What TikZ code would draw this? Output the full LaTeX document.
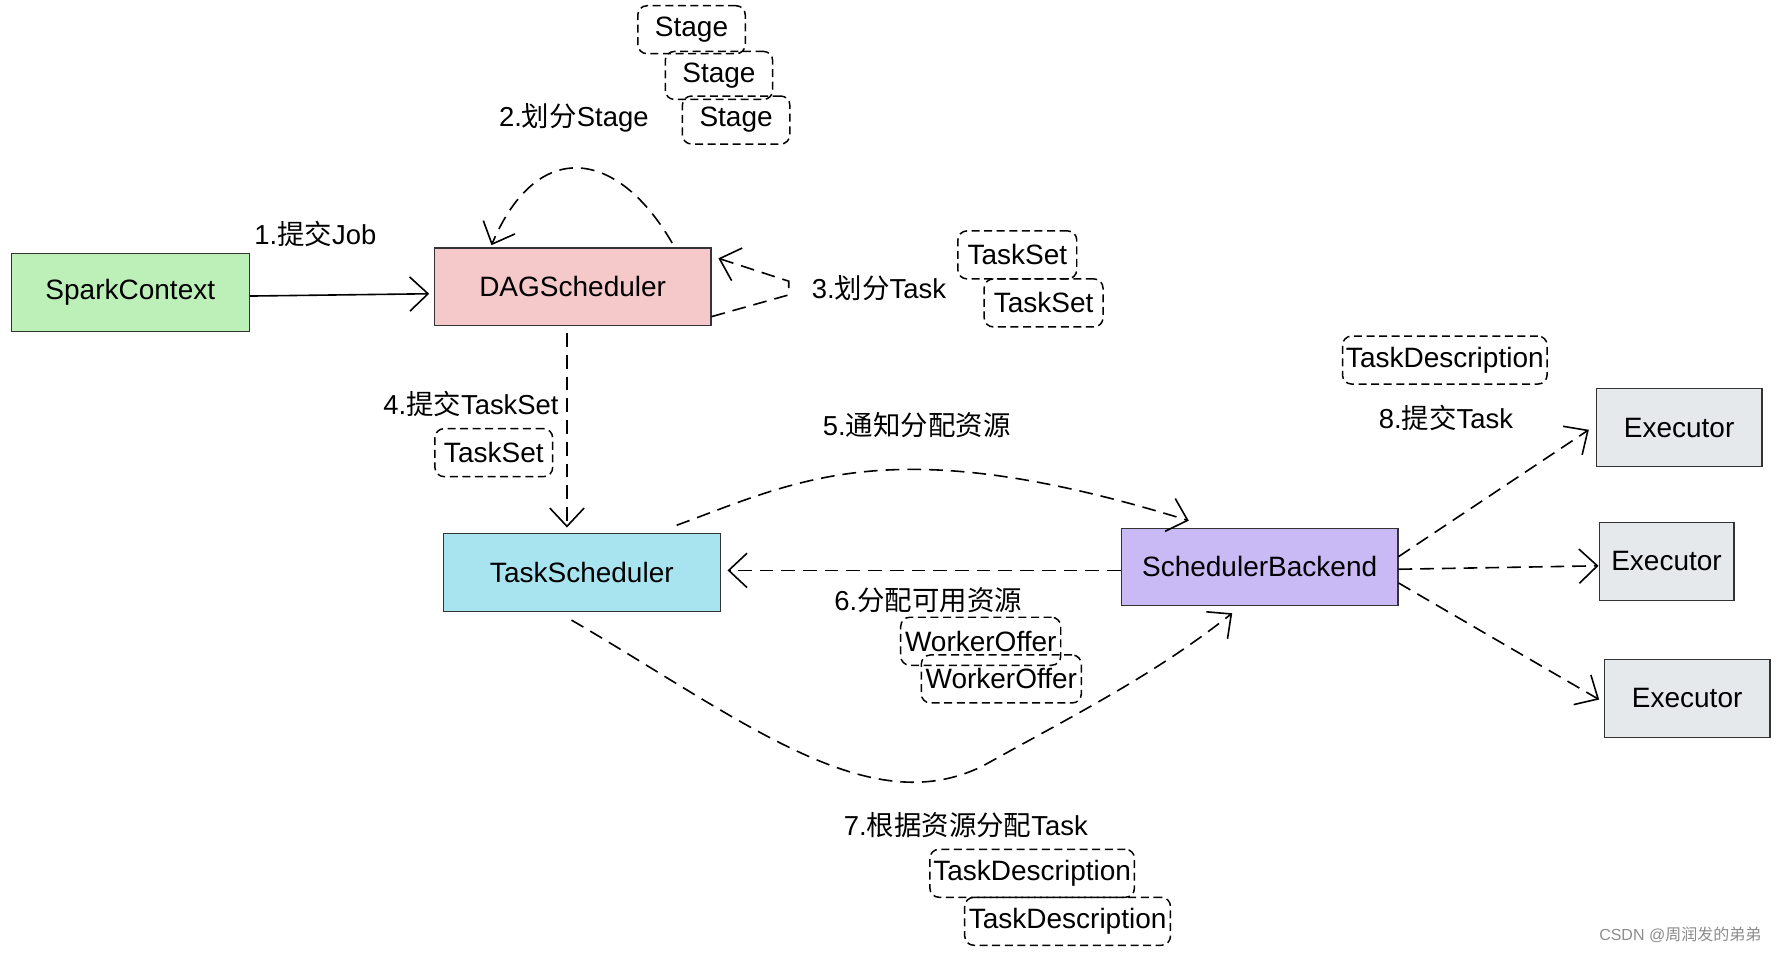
\documentclass[tikz,border=0pt]{standalone}
\usepackage{fontspec}
\setmainfont{Liberation Sans}
\newfontfamily\cjk{Noto Sans CJK SC}
\usetikzlibrary{arrows.meta}
\begin{document}
\begin{tikzpicture}[x=1pt,y=-1pt,
  box/.style={draw=black!80,line width=1pt,minimum height=68pt,inner sep=0pt,font=\fontsize{24.5}{28}\selectfont},
  tag/.style={draw,dash pattern=on 7pt off 4pt,line width=1.3pt,rounded corners=8pt,minimum height=42pt,inner sep=0pt,font=\fontsize{24.5}{28}\selectfont},
  lab/.style={font=\fontsize{24}{28}\selectfont},
  con/.style={line width=1.4pt,dash pattern=on 12pt off 7pt,-{Straight Barb[length=16pt,width=30pt,line width=1.4pt]}}]
\useasboundingbox (0,0) rectangle (1566,833);
\definecolor{cg}{HTML}{BDF0B9}\definecolor{cr}{HTML}{F5C9C9}
\definecolor{cb}{HTML}{A8E4EF}\definecolor{cp}{HTML}{C9B9F5}\definecolor{cx}{HTML}{E6E9EC}
\node[box,fill=cg,minimum width=208pt] (sc) at (114,256) {SparkContext};
\node[box,fill=cr,minimum width=242pt] (dag) at (501,251) {DAGScheduler};
\node[box,fill=cb,minimum width=242pt] (ts) at (509,501) {TaskScheduler};
\node[box,fill=cp,minimum width=242pt] (sb) at (1102,496) {SchedulerBackend};
\node[box,fill=cx,minimum width=145pt] (e1) at (1469,374) {Executor};
\node[box,fill=cx,minimum width=118pt] (e2) at (1458,491) {Executor};
\node[box,fill=cx,minimum width=145pt] (e3) at (1476,611) {Executor};
\node[tag,minimum width=94pt] (s1) at (605,26) {Stage};
\node[tag,minimum width=94pt] (s2) at (629,66) {Stage};
\node[tag,minimum width=94pt] (s3) at (644,105) {Stage};
\node[tag,minimum width=104pt] (t1) at (890,223) {TaskSet};
\node[tag,minimum width=104pt] (t2) at (913,265) {TaskSet};
\node[tag,minimum width=179pt] (td0) at (1264,315) {TaskDescription};
\node[tag,minimum width=103pt] (t3) at (432,396) {TaskSet};
\node[tag,minimum width=140pt] (w1) at (858,561) {WorkerOffer};
\node[tag,minimum width=140pt] (w2) at (876,594) {WorkerOffer};
\node[tag,minimum width=179pt] (td1) at (903,764) {TaskDescription};
\node[tag,minimum width=180pt] (td2) at (934,806) {TaskDescription};
\node[lab] (l1) at (276,205) {1.{\cjk 提交}Job};
\node[lab] (l2) at (502,103) {2.{\cjk 划分}Stage};
\node[lab] (l3) at (769,252) {3.{\cjk 划分}Task};
\node[lab] (l4) at (412,353) {4.{\cjk 提交}TaskSet};
\node[lab] (l5) at (802,372) {5.{\cjk 通知分配资源}};
\node[lab] (l6) at (812,525) {6.{\cjk 分配可用资源}};
\node[lab] (l7) at (845,722) {7.{\cjk 根据资源分配}Task};
\node[lab] (l8) at (1265,366) {8.{\cjk 提交}Task};
\node[font=\fontsize{14}{16}\selectfont,text=black!45] (wm) at (1470,818) {CSDN @{\cjk 周润发的弟弟}};
\coordinate (c3) at (690,258);
\draw[con,dash pattern={}] ([yshift=-3pt]sc.east) -- ([xshift=-4pt,yshift=-6pt]dag.west);
\draw[con] ([xshift=87pt,yshift=4pt]dag.north) .. controls (540,130) and (470,120) .. ([xshift=-71pt,yshift=2pt]dag.north);
\draw[con] ([yshift=-26pt]dag.east) -- (c3) -- ([yshift=12pt]c3) -- ([xshift=6pt,yshift=25pt]dag.east);
\draw[con] ([xshift=-5pt,yshift=-6pt]dag.south) -- ([xshift=-13pt,yshift=5pt]ts.north);
\draw[con] ([xshift=83pt,yshift=7pt]ts.north) .. controls (700,420) and (780,375) .. ([xshift=-62pt,yshift=6pt]sb.north);
\draw[con] ([yshift=-3pt]sb.west) -- ([xshift=6pt,yshift=2pt]ts.east);
\draw[con] ([xshift=-9pt,yshift=-7pt]ts.south) .. controls (650,630) and (760,720) .. (860,670) .. controls (950,620) and (1010,590) .. ([xshift=-24pt,yshift=-6pt]sb.south);
\draw[con] ([yshift=9pt]sb.east) -- ([xshift=-6pt,yshift=-2pt]e1.west);
\draw[con] ([yshift=-2pt]sb.east) -- ([yshift=-4pt]e2.west);
\draw[con] ([yshift=-14pt]sb.east) -- ([xshift=-4pt,yshift=-1pt]e3.west);
\end{tikzpicture}
\end{document}
